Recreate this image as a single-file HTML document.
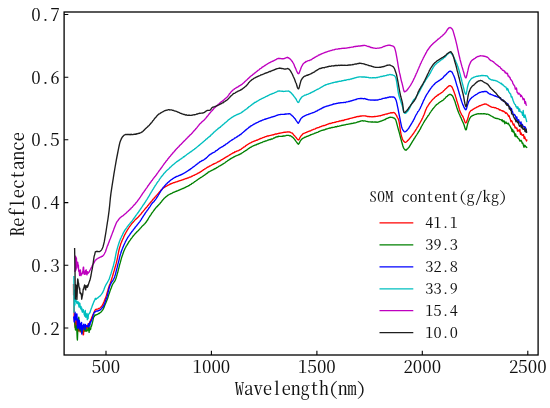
<!DOCTYPE html><html><head><meta charset="utf-8"><style>html,body{margin:0;padding:0;background:#fff;}svg{display:block;filter:blur(0.3px)}</style></head><body><svg width="550" height="408" viewBox="0 0 550 408"><rect x="0" y="0" width="550" height="408" fill="#fff"/>
<polyline points="73.5,284.0 73.6,295.0 74.0,290.0 74.2,318.0 74.5,321.2 74.7,321.8 75.0,324.6 75.2,327.4 75.5,326.8 75.8,323.4 76.2,320.0 76.5,321.2 76.7,325.6 77.0,330.0 77.3,325.9 77.5,324.1 77.8,322.0 78.1,325.1 78.3,325.6 78.6,331.0 78.9,329.1 79.1,324.5 79.4,324.0 79.7,327.0 79.9,329.2 80.2,332.0 80.5,329.3 80.7,327.2 81.0,325.0 81.3,326.4 81.5,328.3 81.8,331.0 82.1,327.3 82.3,327.6 82.6,326.0 82.9,332.7 83.2,334.9 83.5,334.6 83.7,331.2 84.0,327.0 84.2,328.6 84.5,327.7 84.8,331.0 85.0,330.0 85.2,328.9 85.5,327.9 85.8,326.7 86.0,326.0 86.2,326.9 86.5,327.0 86.8,328.1 87.0,329.0 87.2,326.4 87.5,326.1 87.8,328.0 88.0,324.0 88.2,324.4 88.5,324.7 88.8,326.1 89.0,326.0 89.3,325.6 89.6,322.2 89.9,322.0 90.2,321.0 90.5,321.5 90.7,320.1 91.0,319.3 91.2,320.5 91.5,318.0 93.9,312.7 94.5,311.3 95.1,310.1 95.7,309.4 96.3,309.3 96.9,309.1 97.5,309.1 98.1,309.0 98.7,308.5 99.3,308.3 99.9,308.0 100.5,307.6 101.1,307.0 101.7,306.1 102.3,305.4 102.9,304.4 103.5,302.8 104.1,301.6 104.7,300.0 105.3,298.6 105.9,296.9 106.5,295.2 107.1,292.9 107.7,291.0 108.3,288.7 108.9,286.9 109.5,285.0 110.1,283.7 110.7,282.0 111.3,280.3 111.9,278.3 112.5,276.4 113.1,274.2 113.7,272.1 114.3,270.2 114.9,268.0 115.5,266.0 116.1,263.9 116.7,261.4 117.3,258.8 117.9,255.5 118.5,252.3 119.1,249.5 119.7,247.4 120.3,245.5 120.9,243.4 121.5,242.2 122.1,240.5 122.7,239.2 123.3,238.1 123.9,236.6 124.5,235.2 125.1,234.2 125.7,233.0 126.3,231.8 126.9,230.9 127.5,229.8 128.1,228.9 128.7,228.0 129.3,226.9 129.9,226.2 130.5,225.3 131.1,224.6 131.7,223.7 132.3,223.1 132.9,222.4 133.5,221.8 134.1,221.1 134.7,220.2 135.3,219.8 135.9,219.3 136.5,218.5 137.1,218.2 137.7,217.5 138.3,217.0 138.9,216.3 139.5,215.6 140.1,214.9 140.7,214.3 141.3,213.7 141.9,212.7 142.5,212.1 143.1,211.4 143.7,210.6 144.3,209.9 144.9,209.1 145.5,208.5 146.1,207.7 146.7,207.2 147.3,206.3 147.9,205.5 148.5,204.9 149.1,204.1 149.7,203.5 150.3,202.7 150.9,202.1 151.5,201.2 152.1,200.7 152.7,199.7 153.3,199.1 153.9,198.5 154.5,197.7 155.1,197.1 155.7,196.6 156.3,195.5 156.9,195.0 157.5,194.4 158.1,193.6 158.7,192.9 159.3,192.2 159.9,191.6 160.5,190.8 161.1,190.0 161.7,189.6 162.3,188.9 162.9,188.3 163.5,188.0 164.1,187.4 164.7,187.3 165.3,186.8 165.9,186.4 166.5,186.1 167.1,185.8 167.7,185.3 168.3,185.1 168.9,184.9 169.5,184.3 170.1,184.3 170.7,183.7 171.3,183.8 171.9,183.3 172.5,183.3 173.1,182.9 173.7,182.6 174.3,182.7 174.9,182.4 175.5,182.1 176.1,181.9 176.7,181.8 177.3,181.5 177.9,181.5 178.5,181.1 179.1,181.0 179.7,180.7 180.3,180.6 180.9,180.3 181.5,180.3 182.1,179.9 182.7,179.9 183.3,179.5 183.9,179.3 184.5,179.1 185.1,178.9 185.7,178.7 186.3,178.5 186.9,178.3 187.5,178.0 188.1,177.8 188.7,177.8 189.3,177.2 189.9,177.1 190.5,177.0 191.1,176.8 191.7,176.2 192.3,176.2 192.9,175.8 193.5,175.4 194.1,175.4 194.7,174.9 195.3,174.7 195.9,174.3 196.5,174.1 197.1,173.7 197.7,173.5 198.3,173.0 198.9,172.8 199.5,172.7 200.1,172.0 200.7,171.8 201.3,171.4 201.9,170.9 202.5,170.5 203.1,170.2 203.7,169.6 204.3,169.3 204.9,168.9 205.5,168.6 206.1,168.2 206.7,167.8 207.3,167.4 207.9,167.0 208.5,166.9 209.1,166.4 209.7,166.0 210.3,165.8 210.9,165.5 211.5,165.1 212.1,164.8 212.7,164.4 213.3,164.4 213.9,163.7 214.5,163.7 215.1,163.3 215.7,163.1 216.3,162.9 216.9,162.5 217.5,162.0 218.1,161.8 218.7,161.7 219.3,161.1 219.9,161.0 220.5,160.7 221.1,160.0 221.7,159.7 222.3,159.6 222.9,159.1 223.5,158.7 224.1,158.4 224.7,157.9 225.3,157.5 225.9,157.3 226.5,156.8 227.1,156.5 227.7,156.3 228.3,155.8 228.9,155.5 229.5,155.0 230.1,154.8 230.7,154.3 231.3,154.0 231.9,153.7 232.5,153.2 233.1,153.0 233.7,152.6 234.3,152.5 234.9,151.8 235.5,151.9 236.1,151.4 236.7,151.3 237.3,150.9 237.9,150.8 238.5,150.6 239.1,150.2 239.7,150.0 240.3,149.6 240.9,149.4 241.5,148.8 242.1,148.3 242.7,148.1 243.3,147.5 243.9,147.0 244.5,146.9 245.1,146.5 245.7,145.8 246.3,145.4 246.9,145.0 247.5,144.7 248.1,144.2 248.7,143.8 249.3,143.5 249.9,143.2 250.5,142.9 251.1,142.6 251.7,142.2 252.3,141.9 252.9,141.8 253.5,141.4 254.1,141.3 254.7,140.8 255.3,140.8 255.9,140.5 256.5,140.2 257.1,140.3 257.7,139.9 258.3,139.4 258.9,139.4 259.5,139.0 260.1,138.5 260.7,138.7 261.3,138.3 261.9,138.1 262.5,137.7 263.1,137.6 263.7,137.4 264.3,137.3 264.9,136.9 265.5,136.7 266.1,136.6 266.7,136.2 267.3,136.1 267.9,135.8 268.5,136.0 269.1,135.7 269.7,135.6 270.3,135.4 270.9,135.3 271.5,135.2 272.1,135.0 272.7,134.9 273.3,134.7 273.9,134.7 274.5,134.4 275.1,134.2 275.7,134.0 276.3,133.9 276.9,134.0 277.5,133.6 278.1,133.5 278.7,133.3 279.3,133.2 279.9,133.2 280.5,133.1 281.1,132.8 281.7,132.8 282.3,132.6 282.9,132.6 283.5,132.3 284.1,132.4 284.7,132.2 285.3,132.3 285.9,132.0 286.5,132.1 287.1,132.1 287.7,131.8 288.3,131.9 288.9,132.0 289.5,132.0 290.1,132.1 290.7,132.5 291.3,132.8 291.9,132.8 292.5,133.4 293.1,134.0 293.7,134.9 294.3,135.4 294.9,136.1 295.5,137.0 296.1,137.4 296.7,138.4 297.3,139.1 297.9,139.7 298.5,140.0 299.1,139.5 299.7,138.1 300.3,137.0 300.9,136.1 301.5,135.4 302.1,134.8 302.7,134.1 303.3,133.6 303.9,133.3 304.5,133.1 305.1,132.9 305.7,132.6 306.3,132.4 306.9,132.1 307.5,131.8 308.1,131.6 308.7,131.4 309.3,131.2 309.9,131.0 310.5,130.9 311.1,130.4 311.7,130.2 312.3,129.8 312.9,129.8 313.5,129.3 314.1,129.2 314.7,129.1 315.3,128.8 315.9,128.4 316.5,128.1 317.1,128.0 317.7,127.7 318.3,127.6 318.9,127.5 319.5,127.0 320.1,126.8 320.7,126.6 321.3,126.5 321.9,126.2 322.5,125.9 323.1,125.9 323.7,125.5 324.3,125.6 324.9,125.3 325.5,125.1 326.1,124.7 326.7,124.7 327.3,124.3 327.9,124.1 328.5,124.0 329.1,123.7 329.7,123.5 330.3,123.6 330.9,123.2 331.5,123.2 332.1,123.1 332.7,122.6 333.3,122.7 333.9,122.6 334.5,122.4 335.1,122.2 335.7,122.2 336.3,121.9 336.9,121.7 337.5,121.6 338.1,121.6 338.7,121.3 339.3,121.0 339.9,121.2 340.5,120.9 341.1,120.9 341.7,120.5 342.3,120.5 342.9,120.3 343.5,120.5 344.1,119.9 344.7,120.1 345.3,119.6 345.9,119.6 346.5,119.3 347.1,119.3 347.7,119.2 348.3,118.8 348.9,119.0 349.5,118.7 350.1,118.4 350.7,118.4 351.3,118.2 351.9,118.1 352.5,117.9 353.1,117.7 353.7,117.6 354.3,117.3 354.9,117.2 355.5,117.2 356.1,117.0 356.7,116.6 357.3,116.7 357.9,116.5 358.5,116.4 359.1,116.5 359.7,116.2 360.3,116.3 360.9,115.9 361.5,116.1 362.1,115.9 362.7,115.8 363.3,115.9 363.9,115.8 364.5,115.9 365.1,115.9 365.7,116.0 366.3,116.2 366.9,116.4 367.5,116.5 368.1,116.4 368.7,116.6 369.3,116.5 369.9,116.8 370.5,116.6 371.1,116.7 371.7,116.9 372.3,116.9 372.9,116.6 373.5,116.7 374.1,116.7 374.7,116.5 375.3,116.6 375.9,116.4 376.5,116.4 377.1,116.4 377.7,116.1 378.3,116.1 378.9,115.8 379.5,115.8 380.1,115.6 380.7,115.8 381.3,115.3 381.9,115.3 382.5,115.0 383.1,114.9 383.7,114.7 384.3,114.8 384.9,114.3 385.5,114.2 386.1,114.1 386.7,113.9 387.3,114.0 387.9,113.7 388.5,113.4 389.1,113.3 389.7,113.2 390.3,113.1 390.9,112.6 391.5,113.0 392.1,112.6 392.7,112.8 393.3,112.5 393.9,112.6 394.5,112.8 395.1,113.4 395.7,114.3 396.3,115.1 396.9,116.4 397.5,117.6 398.1,118.5 398.7,120.0 399.3,122.8 399.9,127.1 400.5,131.5 401.1,134.6 401.7,136.8 402.3,138.5 402.9,140.0 403.5,141.0 404.1,141.6 404.7,142.2 405.3,142.4 405.9,142.1 406.5,141.7 407.1,141.2 407.7,140.5 408.3,140.1 408.9,139.3 409.5,138.7 410.1,137.9 410.7,137.1 411.3,136.3 411.9,135.6 412.5,134.7 413.1,134.0 413.7,133.1 414.3,132.1 414.9,131.4 415.5,130.3 416.1,129.5 416.7,128.5 417.3,127.3 417.9,126.6 418.5,125.5 419.1,124.4 419.7,123.3 420.3,122.3 420.9,121.2 421.5,120.1 422.1,118.9 422.7,117.8 423.3,116.3 423.9,115.0 424.5,113.4 425.1,111.7 425.7,110.1 426.3,108.8 426.9,107.3 427.5,106.6 428.1,105.5 428.7,104.6 429.3,103.7 429.9,102.8 430.5,102.1 431.1,101.4 431.7,100.6 432.3,99.9 432.9,99.2 433.5,98.8 434.1,98.2 434.7,97.6 435.3,97.1 435.9,96.4 436.5,96.3 437.1,95.6 437.7,95.0 438.3,95.0 438.9,94.3 439.5,94.0 440.1,93.7 440.7,93.4 441.3,92.7 441.9,92.4 442.5,92.0 443.1,91.4 443.7,90.7 444.3,90.3 444.9,89.6 445.5,89.1 446.1,88.6 446.7,87.9 447.3,87.3 447.9,86.9 448.5,86.2 449.1,85.9 449.7,85.7 450.3,85.7 450.9,86.0 451.5,86.5 452.1,87.2 452.7,88.6 453.3,89.9 453.9,91.4 454.5,93.2 455.1,94.8 455.7,96.9 456.3,98.8 456.9,101.0 457.5,102.9 458.1,104.8 458.7,106.8 459.3,109.2 459.9,111.1 460.5,112.4 461.1,113.5 461.7,114.7 462.3,115.8 462.9,116.5 463.5,118.0 464.1,119.4 464.7,121.2 465.3,122.7 465.9,123.0 466.5,122.1 467.1,120.6 467.7,118.7 468.3,116.7 468.9,114.4 469.5,112.5 470.1,111.6 470.7,110.8 471.3,110.4 471.9,110.1 472.5,109.8 473.1,109.2 473.7,109.1 474.3,108.4 474.9,108.3 475.5,107.9 476.1,107.7 476.7,107.4 477.3,106.8 477.9,106.7 478.5,106.5 479.1,106.0 479.7,105.7 480.3,105.7 480.9,105.3 481.5,105.2 482.1,104.8 482.7,104.8 483.3,104.4 483.9,104.4 484.5,104.0 485.1,104.0 485.7,104.1 486.3,104.1 486.9,104.6 487.5,104.8 488.1,105.1 488.7,105.6 489.3,105.8 489.9,106.3 490.5,106.5 491.1,106.8 491.7,107.2 492.3,107.4 492.9,107.4 493.5,107.3 494.1,107.5 494.7,107.8 495.3,107.7 495.9,107.9 496.5,108.3 497.1,108.6 497.7,108.7 498.3,108.9 498.9,109.3 499.5,110.0 500.1,109.7 500.7,110.2 501.3,110.5 501.9,110.8 502.5,110.7 503.1,111.5 503.7,111.1 504.3,111.9 504.9,111.9 505.5,113.3 506.1,112.7 506.7,113.1 507.3,114.0 507.9,114.7 508.5,116.2 509.1,115.7 509.7,117.8 510.3,119.1 510.9,121.7 511.5,120.7 512.1,121.5 512.7,123.4 513.3,125.1 513.9,123.9 514.5,125.6 515.1,127.8 515.7,127.3 516.3,128.4 516.9,127.9 517.5,131.2 518.1,130.5 518.7,130.1 519.3,131.5 519.9,129.5 520.5,134.3 521.1,132.9 521.7,134.7 522.3,135.4 522.9,134.9 523.5,134.6 524.1,138.5 524.7,136.8 525.3,138.9 525.9,139.4 526.5,141.0 527.1,139.6" fill="none" stroke="#ff0000" stroke-width="1.35" stroke-linejoin="round"/>
<polyline points="74.5,322.0 74.8,323.0 75.0,325.6 75.2,327.6 75.5,330.0 75.8,329.4 76.1,326.9 76.4,326.0 76.7,329.3 76.9,331.8 77.2,338.1 77.4,340.0 77.7,333.0 78.0,325.0 78.3,324.2 78.5,320.6 78.8,317.2 79.1,321.3 79.3,322.2 79.6,325.0 79.9,327.4 80.1,331.0 80.4,330.0 80.7,327.8 80.9,329.2 81.2,327.0 81.5,330.7 81.7,331.4 82.0,333.0 82.3,332.1 82.5,330.9 82.8,328.0 83.1,326.8 83.4,327.4 83.7,325.6 84.0,326.0 84.2,326.6 84.5,327.9 84.8,329.6 85.0,331.0 85.2,330.5 85.5,330.2 85.8,327.7 86.0,328.5 86.2,331.2 86.5,330.9 86.8,331.1 87.0,331.0 87.2,330.1 87.5,329.9 87.8,330.1 88.0,329.0 88.3,329.5 88.5,327.5 88.8,330.1 89.1,332.4 89.4,327.6 89.6,330.6 89.9,329.7 90.2,329.5 90.4,328.4 90.7,329.3 91.0,326.0 91.2,326.8 91.5,326.0 92.6,321.9 93.2,319.1 93.8,316.7 94.4,316.6 95.0,314.8 95.6,315.3 96.2,314.9 96.8,314.6 97.4,314.3 98.0,314.1 98.6,313.5 99.2,313.5 99.8,312.9 100.4,312.5 101.0,312.2 101.6,311.4 102.2,310.6 102.8,309.9 103.4,308.7 104.0,307.4 104.6,305.8 105.2,304.2 105.8,303.0 106.4,301.5 107.0,300.0 107.6,298.5 108.2,296.5 108.8,294.6 109.4,293.0 110.0,291.1 110.6,289.4 111.2,288.0 111.8,286.2 112.4,284.8 113.0,283.7 113.6,282.9 114.2,281.9 114.8,281.1 115.4,279.8 116.0,278.2 116.6,276.4 117.2,274.1 117.8,272.0 118.4,269.6 119.0,267.3 119.6,264.8 120.2,262.9 120.8,260.6 121.4,258.4 122.0,256.4 122.6,254.8 123.2,253.0 123.8,251.3 124.4,249.9 125.0,248.5 125.6,247.5 126.2,246.2 126.8,245.3 127.4,244.3 128.0,243.5 128.6,242.2 129.2,241.5 129.8,240.6 130.4,239.9 131.0,238.8 131.6,238.2 132.2,237.4 132.8,236.5 133.4,235.8 134.0,235.1 134.6,234.2 135.2,233.7 135.8,233.1 136.4,232.5 137.0,231.8 137.6,231.1 138.2,230.7 138.8,230.1 139.4,229.4 140.0,228.7 140.6,227.9 141.2,227.4 141.8,226.6 142.4,225.9 143.0,225.4 143.6,225.0 144.2,224.2 144.8,223.8 145.4,222.9 146.0,222.3 146.6,221.3 147.2,220.5 147.8,219.8 148.4,218.5 149.0,217.5 149.6,216.6 150.2,215.7 150.8,214.8 151.4,213.8 152.0,212.9 152.6,212.2 153.2,211.4 153.8,210.5 154.4,209.8 155.0,208.9 155.6,208.2 156.2,207.3 156.8,206.9 157.4,206.3 158.0,205.5 158.6,204.9 159.2,204.3 159.8,203.8 160.4,202.8 161.0,202.2 161.6,201.5 162.2,200.7 162.8,199.9 163.4,199.3 164.0,198.6 164.6,198.0 165.2,197.5 165.8,196.9 166.4,196.5 167.0,196.1 167.6,195.4 168.2,195.2 168.8,194.8 169.4,194.3 170.0,194.2 170.6,193.7 171.2,193.6 171.8,193.3 172.4,193.0 173.0,192.5 173.6,192.4 174.2,192.1 174.8,191.8 175.4,191.7 176.0,191.2 176.6,191.3 177.2,190.8 177.8,190.8 178.4,190.4 179.0,190.1 179.6,190.0 180.2,189.7 180.8,189.4 181.4,189.2 182.0,188.8 182.6,188.5 183.2,188.5 183.8,188.1 184.4,187.8 185.0,187.5 185.6,187.3 186.2,186.9 186.8,186.6 187.4,186.4 188.0,186.2 188.6,185.6 189.2,185.6 189.8,184.9 190.4,184.6 191.0,184.4 191.6,183.8 192.2,183.3 192.8,183.1 193.4,182.7 194.0,182.3 194.6,181.7 195.2,181.4 195.8,181.0 196.4,180.5 197.0,180.2 197.6,179.7 198.2,179.3 198.8,178.9 199.4,178.5 200.0,178.1 200.6,177.6 201.2,177.3 201.8,177.0 202.4,176.5 203.0,176.2 203.6,175.7 204.2,175.3 204.8,175.0 205.4,174.3 206.0,174.1 206.6,173.5 207.2,173.3 207.8,172.8 208.4,172.0 209.0,171.9 209.6,171.6 210.2,171.2 210.8,170.9 211.4,170.5 212.0,170.3 212.6,170.0 213.2,169.6 213.8,169.5 214.4,168.8 215.0,168.9 215.6,168.3 216.2,168.2 216.8,167.6 217.4,167.3 218.0,167.0 218.6,166.5 219.2,166.2 219.8,165.8 220.4,165.6 221.0,165.2 221.6,164.9 222.2,164.4 222.8,164.2 223.4,163.7 224.0,163.3 224.6,163.0 225.2,162.6 225.8,162.0 226.4,161.7 227.0,161.3 227.6,160.8 228.2,160.3 228.8,160.1 229.4,159.5 230.0,159.3 230.6,158.7 231.2,158.5 231.8,158.1 232.4,157.7 233.0,157.6 233.6,157.0 234.2,156.9 234.8,156.5 235.4,156.1 236.0,155.9 236.6,155.7 237.2,155.4 237.8,155.2 238.4,154.9 239.0,154.5 239.6,154.5 240.2,153.9 240.8,153.9 241.4,153.3 242.0,153.0 242.6,152.7 243.2,152.3 243.8,151.8 244.4,151.4 245.0,151.1 245.6,150.6 246.2,150.3 246.8,150.0 247.4,149.3 248.0,149.1 248.6,148.4 249.2,148.3 249.8,147.8 250.4,147.4 251.0,147.1 251.6,146.8 252.2,146.3 252.8,146.1 253.4,145.7 254.0,145.6 254.6,145.2 255.2,145.1 255.8,144.8 256.4,144.8 257.0,144.1 257.6,144.2 258.2,144.0 258.8,143.6 259.4,143.3 260.0,143.1 260.6,142.8 261.2,142.7 261.8,142.6 262.4,142.2 263.0,141.8 263.6,141.7 264.2,141.5 264.8,141.4 265.4,141.0 266.0,140.9 266.6,140.8 267.2,140.5 267.8,140.2 268.4,140.0 269.0,139.8 269.6,139.7 270.2,139.3 270.8,139.5 271.4,139.0 272.0,139.0 272.6,138.8 273.2,138.5 273.8,138.0 274.4,138.0 275.0,137.6 275.6,137.2 276.2,137.0 276.8,136.8 277.4,136.5 278.0,136.8 278.6,136.2 279.2,136.4 279.8,136.4 280.4,136.4 281.0,136.3 281.6,136.3 282.2,136.2 282.8,136.3 283.4,135.9 284.0,136.2 284.6,135.9 285.2,135.9 285.8,135.7 286.4,135.4 287.0,135.4 287.6,135.4 288.2,135.3 288.8,135.3 289.4,135.8 290.0,135.8 290.6,135.7 291.2,136.3 291.8,136.8 292.4,137.0 293.0,137.6 293.6,138.2 294.2,138.9 294.8,139.7 295.4,140.5 296.0,141.4 296.6,142.1 297.2,143.0 297.8,143.8 298.4,144.2 299.0,143.6 299.6,142.4 300.2,141.2 300.8,140.3 301.4,139.6 302.0,139.0 302.6,138.5 303.2,138.1 303.8,137.8 304.4,137.6 305.0,137.1 305.6,137.2 306.2,136.7 306.8,136.4 307.4,136.3 308.0,136.0 308.6,135.8 309.2,135.5 309.8,135.4 310.4,134.9 311.0,134.6 311.6,134.6 312.2,134.2 312.8,134.1 313.4,133.9 314.0,133.6 314.6,133.2 315.2,133.1 315.8,133.1 316.4,132.6 317.0,132.4 317.6,132.3 318.2,132.1 318.8,131.6 319.4,131.3 320.0,131.1 320.6,130.9 321.2,130.6 321.8,130.4 322.4,130.3 323.0,130.0 323.6,130.0 324.2,129.8 324.8,129.8 325.4,129.2 326.0,129.2 326.6,129.0 327.2,128.9 327.8,128.7 328.4,128.4 329.0,128.3 329.6,128.0 330.2,128.0 330.8,128.0 331.4,127.7 332.0,127.5 332.6,127.5 333.2,127.4 333.8,127.3 334.4,127.1 335.0,127.0 335.6,126.7 336.2,126.7 336.8,126.8 337.4,126.2 338.0,126.4 338.6,126.3 339.2,126.1 339.8,125.9 340.4,125.9 341.0,125.7 341.6,125.5 342.2,125.2 342.8,125.3 343.4,125.1 344.0,125.0 344.6,124.9 345.2,124.8 345.8,124.6 346.4,124.4 347.0,124.4 347.6,124.3 348.2,124.1 348.8,124.1 349.4,123.8 350.0,123.8 350.6,123.8 351.2,123.4 351.8,123.6 352.4,123.3 353.0,123.3 353.6,123.0 354.2,123.0 354.8,122.9 355.4,122.8 356.0,122.6 356.6,122.3 357.2,122.2 357.8,122.0 358.4,121.9 359.0,121.6 359.6,121.5 360.2,121.4 360.8,121.0 361.4,120.9 362.0,120.9 362.6,120.7 363.2,120.8 363.8,121.0 364.4,120.9 365.0,120.9 365.6,121.2 366.2,121.3 366.8,121.3 367.4,121.5 368.0,121.6 368.6,121.8 369.2,121.8 369.8,121.9 370.4,121.9 371.0,122.0 371.6,122.0 372.2,122.0 372.8,121.8 373.4,122.1 374.0,122.1 374.6,122.0 375.2,122.2 375.8,122.0 376.4,122.0 377.0,122.3 377.6,122.1 378.2,122.0 378.8,121.9 379.4,121.7 380.0,121.5 380.6,121.1 381.2,121.1 381.8,120.8 382.4,120.5 383.0,120.4 383.6,120.2 384.2,119.8 384.8,119.5 385.4,119.5 386.0,118.8 386.6,118.5 387.2,118.4 387.8,118.1 388.4,117.7 389.0,117.7 389.6,117.3 390.2,117.2 390.8,117.4 391.4,117.4 392.0,117.3 392.6,117.6 393.2,117.7 393.8,118.1 394.4,118.1 395.0,119.0 395.6,119.6 396.2,121.4 396.8,123.7 397.4,125.9 398.0,128.1 398.6,130.2 399.2,132.4 399.8,134.7 400.4,137.1 401.0,139.3 401.6,141.5 402.2,143.5 402.8,145.7 403.4,147.5 404.0,148.6 404.6,149.3 405.2,150.0 405.8,150.0 406.4,150.0 407.0,149.2 407.6,148.9 408.2,148.1 408.8,147.6 409.4,146.6 410.0,145.6 410.6,144.6 411.2,143.6 411.8,142.6 412.4,141.6 413.0,140.7 413.6,139.9 414.2,138.5 414.8,137.9 415.4,136.7 416.0,135.9 416.6,135.0 417.2,134.0 417.8,133.1 418.4,131.9 419.0,131.3 419.6,130.0 420.2,129.1 420.8,127.9 421.4,126.5 422.0,125.6 422.6,124.5 423.2,123.5 423.8,122.3 424.4,121.4 425.0,120.3 425.6,119.7 426.2,118.7 426.8,117.6 427.4,116.8 428.0,115.8 428.6,115.2 429.2,114.3 429.8,113.2 430.4,112.4 431.0,111.5 431.6,110.5 432.2,110.0 432.8,108.9 433.4,108.3 434.0,107.6 434.6,106.9 435.2,106.1 435.8,105.5 436.4,104.8 437.0,104.3 437.6,104.0 438.2,103.4 438.8,102.9 439.4,102.5 440.0,102.1 440.6,101.6 441.2,101.3 441.8,100.9 442.4,100.7 443.0,100.2 443.6,99.8 444.2,98.9 444.8,98.5 445.4,97.9 446.0,97.1 446.6,96.6 447.2,96.3 447.8,95.5 448.4,95.1 449.0,94.7 449.6,94.5 450.2,94.4 450.8,94.5 451.4,94.9 452.0,95.5 452.6,96.1 453.2,97.2 453.8,98.8 454.4,100.2 455.0,101.6 455.6,103.7 456.2,105.6 456.8,107.5 457.4,109.2 458.0,111.1 458.6,112.6 459.2,114.0 459.8,115.0 460.4,116.9 461.0,117.7 461.6,119.4 462.2,120.7 462.8,122.0 463.4,123.3 464.0,124.8 464.6,126.8 465.2,128.9 465.8,129.9 466.4,129.4 467.0,126.5 467.6,124.1 468.2,122.0 468.8,120.7 469.4,119.1 470.0,118.0 470.6,117.1 471.2,116.5 471.8,116.2 472.4,115.6 473.0,115.4 473.6,115.3 474.2,114.8 474.8,114.7 475.4,114.4 476.0,114.4 476.6,114.1 477.2,113.8 477.8,113.9 478.4,113.7 479.0,113.8 479.6,113.9 480.2,113.6 480.8,113.8 481.4,113.7 482.0,113.9 482.6,113.9 483.2,113.7 483.8,113.9 484.4,113.7 485.0,113.8 485.6,113.9 486.2,114.2 486.8,114.2 487.4,114.1 488.0,114.2 488.6,114.6 489.2,114.7 489.8,115.2 490.4,115.5 491.0,115.9 491.6,116.2 492.2,116.4 492.8,116.9 493.4,117.1 494.0,117.7 494.6,117.8 495.2,118.2 495.8,118.2 496.4,118.5 497.0,118.6 497.6,118.5 498.2,118.8 498.8,118.8 499.4,119.3 500.0,119.6 500.6,119.6 501.2,119.7 501.8,120.8 502.4,119.9 503.0,121.8 503.6,120.8 504.2,120.8 504.8,123.7 505.4,122.5 506.0,121.9 506.6,123.4 507.2,123.3 507.8,123.9 508.4,123.3 509.0,124.7 509.6,125.7 510.2,126.1 510.8,128.0 511.4,128.2 512.0,131.3 512.6,129.4 513.2,132.1 513.8,131.1 514.4,133.3 515.0,136.0 515.6,133.9 516.2,136.9 516.8,136.5 517.4,136.6 518.0,138.4 518.6,138.6 519.2,139.3 519.8,141.1 520.4,141.0 521.0,140.3 521.6,141.2 522.2,143.4 522.8,143.0 523.4,145.3 524.0,147.3 524.6,145.1 525.2,145.8 525.8,146.9 526.4,146.9 527.0,148.0" fill="none" stroke="#008000" stroke-width="1.35" stroke-linejoin="round"/>
<polyline points="73.7,316.5 74.0,319.3 74.2,321.9 74.5,322.0 74.8,316.3 75.1,312.2 75.4,316.0 75.8,320.0 76.1,318.9 76.3,315.3 76.6,313.9 76.9,313.9 77.2,321.2 77.4,328.2 77.8,323.1 78.1,319.0 78.4,321.9 78.8,328.0 79.1,324.9 79.4,320.7 79.7,324.8 79.9,329.7 80.3,323.3 80.7,327.3 81.0,328.2 81.3,325.3 81.6,322.4 81.8,334.1 82.1,329.5 82.4,325.9 82.7,328.0 82.9,329.7 83.2,327.6 83.4,325.0 83.7,324.2 84.0,324.2 84.2,326.6 84.5,327.1 84.7,326.8 85.0,327.6 85.3,329.2 85.5,324.4 85.8,326.0 86.0,325.6 86.3,325.9 86.6,326.2 86.9,326.0 87.2,325.7 87.6,326.7 87.9,325.6 88.1,327.2 88.4,325.9 88.6,323.6 88.9,325.0 89.1,324.6 89.3,326.2 89.6,325.4 89.8,322.6 90.1,324.4 90.3,321.7 90.6,322.4 92.6,317.8 93.2,314.9 93.8,313.2 94.4,312.4 95.0,311.6 95.6,311.9 96.2,311.0 96.8,311.1 97.4,310.8 98.0,311.0 98.6,310.7 99.2,310.2 99.8,310.2 100.4,309.5 101.0,309.1 101.6,308.7 102.2,307.7 102.8,307.0 103.4,306.3 104.0,304.9 104.6,303.7 105.2,301.8 105.8,300.1 106.4,298.6 107.0,296.9 107.6,294.5 108.2,291.8 108.8,289.5 109.4,287.3 110.0,285.5 110.6,284.3 111.2,282.9 111.8,282.0 112.4,281.2 113.0,280.4 113.6,279.3 114.2,278.0 114.8,276.3 115.4,274.4 116.0,272.0 116.6,269.7 117.2,267.4 117.8,264.7 118.4,262.4 119.0,260.1 119.6,257.4 120.2,255.1 120.8,253.3 121.4,251.3 122.0,249.7 122.6,248.3 123.2,246.8 123.8,245.3 124.4,244.0 125.0,242.7 125.6,241.3 126.2,240.4 126.8,239.3 127.4,238.2 128.0,237.2 128.6,236.4 129.2,235.5 129.8,234.6 130.4,233.6 131.0,233.0 131.6,232.0 132.2,231.3 132.8,230.6 133.4,229.6 134.0,228.9 134.6,228.3 135.2,227.3 135.8,226.6 136.4,225.9 137.0,225.3 137.6,224.2 138.2,223.7 138.8,222.9 139.4,222.1 140.0,221.3 140.6,220.4 141.2,219.6 141.8,218.4 142.4,217.6 143.0,216.7 143.6,215.6 144.2,214.8 144.8,214.0 145.4,212.9 146.0,212.1 146.6,211.3 147.2,210.4 147.8,209.7 148.4,208.9 149.0,207.9 149.6,207.1 150.2,206.3 150.8,205.2 151.4,204.4 152.0,203.5 152.6,202.8 153.2,202.2 153.8,201.8 154.4,200.8 155.0,200.2 155.6,199.4 156.2,198.6 156.8,197.7 157.4,196.6 158.0,195.8 158.6,194.6 159.2,193.8 159.8,192.7 160.4,191.8 161.0,190.7 161.6,190.0 162.2,189.1 162.8,188.2 163.4,187.2 164.0,186.8 164.6,185.9 165.2,185.3 165.8,184.6 166.4,184.0 167.0,183.5 167.6,182.8 168.2,182.3 168.8,181.9 169.4,181.3 170.0,180.8 170.6,180.3 171.2,179.8 171.8,179.4 172.4,179.1 173.0,178.4 173.6,178.3 174.2,177.8 174.8,177.4 175.4,177.3 176.0,176.7 176.6,176.5 177.2,176.3 177.8,176.1 178.4,175.8 179.0,175.5 179.6,175.4 180.2,175.0 180.8,175.1 181.4,174.5 182.0,174.4 182.6,174.0 183.2,173.6 183.8,173.3 184.4,173.0 185.0,172.7 185.6,172.3 186.2,171.9 186.8,171.4 187.4,171.1 188.0,170.7 188.6,170.4 189.2,169.7 189.8,169.7 190.4,169.0 191.0,168.6 191.6,168.3 192.2,167.8 192.8,167.3 193.4,166.9 194.0,166.4 194.6,166.1 195.2,165.6 195.8,165.0 196.4,164.7 197.0,164.1 197.6,163.7 198.2,163.1 198.8,162.8 199.4,162.4 200.0,161.7 200.6,161.6 201.2,161.2 201.8,160.9 202.4,160.3 203.0,160.3 203.6,160.0 204.2,159.5 204.8,159.2 205.4,158.5 206.0,158.4 206.6,157.6 207.2,157.2 207.8,156.3 208.4,156.0 209.0,155.3 209.6,154.9 210.2,154.3 210.8,154.0 211.4,153.9 212.0,153.2 212.6,153.0 213.2,152.7 213.8,152.3 214.4,152.1 215.0,151.7 215.6,151.0 216.2,150.6 216.8,150.5 217.4,149.9 218.0,149.5 218.6,149.1 219.2,148.4 219.8,148.2 220.4,147.7 221.0,147.3 221.6,147.2 222.2,146.6 222.8,146.6 223.4,145.9 224.0,145.5 224.6,145.3 225.2,144.9 225.8,144.3 226.4,143.8 227.0,143.6 227.6,143.2 228.2,142.5 228.8,142.1 229.4,141.8 230.0,141.3 230.6,140.8 231.2,140.5 231.8,140.0 232.4,139.8 233.0,139.3 233.6,139.0 234.2,138.6 234.8,138.0 235.4,137.9 236.0,137.5 236.6,137.0 237.2,136.8 237.8,136.2 238.4,135.9 239.0,135.7 239.6,135.0 240.2,134.6 240.8,134.5 241.4,133.7 242.0,133.3 242.6,132.7 243.2,132.3 243.8,131.8 244.4,131.3 245.0,130.8 245.6,130.0 246.2,129.9 246.8,129.1 247.4,128.7 248.0,128.3 248.6,127.7 249.2,127.1 249.8,127.0 250.4,126.2 251.0,126.0 251.6,125.6 252.2,125.3 252.8,124.8 253.4,124.6 254.0,124.1 254.6,124.0 255.2,123.4 255.8,123.2 256.4,123.1 257.0,122.6 257.6,122.3 258.2,122.2 258.8,121.7 259.4,121.4 260.0,121.3 260.6,120.8 261.2,120.9 261.8,120.5 262.4,120.1 263.0,119.9 263.6,119.8 264.2,119.5 264.8,119.2 265.4,119.2 266.0,118.7 266.6,118.8 267.2,118.5 267.8,118.4 268.4,118.2 269.0,117.9 269.6,117.9 270.2,117.6 270.8,117.4 271.4,117.2 272.0,117.0 272.6,116.9 273.2,116.6 273.8,116.5 274.4,116.4 275.0,116.1 275.6,115.9 276.2,115.5 276.8,115.3 277.4,115.3 278.0,114.9 278.6,114.9 279.2,114.6 279.8,114.6 280.4,114.5 281.0,114.4 281.6,114.4 282.2,114.3 282.8,114.3 283.4,114.3 284.0,114.3 284.6,114.1 285.2,114.3 285.8,113.9 286.4,114.1 287.0,113.9 287.6,113.9 288.2,114.0 288.8,113.7 289.4,113.7 290.0,113.8 290.6,114.2 291.2,115.0 291.8,115.3 292.4,116.0 293.0,116.4 293.6,117.2 294.2,117.8 294.8,118.6 295.4,119.2 296.0,120.4 296.6,121.1 297.2,122.0 297.8,123.0 298.4,123.3 299.0,122.2 299.6,121.2 300.2,119.9 300.8,118.9 301.4,118.0 302.0,117.7 302.6,117.0 303.2,116.7 303.8,116.4 304.4,115.9 305.0,115.8 305.6,115.4 306.2,115.2 306.8,114.9 307.4,114.7 308.0,114.6 308.6,114.2 309.2,114.0 309.8,113.8 310.4,113.7 311.0,113.3 311.6,113.2 312.2,113.0 312.8,112.7 313.4,112.6 314.0,112.3 314.6,112.2 315.2,111.8 315.8,111.4 316.4,111.1 317.0,111.0 317.6,110.4 318.2,110.1 318.8,109.9 319.4,109.5 320.0,109.3 320.6,108.8 321.2,108.8 321.8,108.1 322.4,108.1 323.0,107.5 323.6,107.6 324.2,107.0 324.8,106.8 325.4,106.7 326.0,106.5 326.6,106.1 327.2,106.1 327.8,105.8 328.4,105.8 329.0,105.5 329.6,105.3 330.2,105.1 330.8,105.0 331.4,104.8 332.0,104.7 332.6,104.6 333.2,104.0 333.8,104.2 334.4,103.9 335.0,103.9 335.6,103.6 336.2,103.6 336.8,103.3 337.4,103.4 338.0,103.1 338.6,103.0 339.2,103.0 339.8,102.8 340.4,102.7 341.0,102.9 341.6,102.7 342.2,102.6 342.8,102.7 343.4,102.6 344.0,102.3 344.6,102.4 345.2,102.5 345.8,102.3 346.4,101.9 347.0,101.9 347.6,101.8 348.2,101.7 348.8,101.4 349.4,101.5 350.0,101.1 350.6,101.0 351.2,101.0 351.8,100.6 352.4,100.5 353.0,100.4 353.6,100.1 354.2,99.9 354.8,99.8 355.4,99.5 356.0,99.6 356.6,99.2 357.2,98.9 357.8,98.9 358.4,98.7 359.0,98.6 359.6,98.7 360.2,98.5 360.8,98.4 361.4,98.5 362.0,98.4 362.6,98.6 363.2,98.6 363.8,98.8 364.4,98.5 365.0,98.6 365.6,99.0 366.2,99.2 366.8,99.2 367.4,99.5 368.0,99.6 368.6,99.8 369.2,99.8 369.8,99.9 370.4,100.1 371.0,100.0 371.6,100.1 372.2,100.0 372.8,100.1 373.4,100.2 374.0,99.9 374.6,100.2 375.2,100.2 375.8,100.0 376.4,100.1 377.0,99.9 377.6,100.0 378.2,99.8 378.8,99.6 379.4,99.3 380.0,99.3 380.6,99.3 381.2,99.1 381.8,98.8 382.4,98.8 383.0,98.4 383.6,98.4 384.2,98.3 384.8,98.2 385.4,97.8 386.0,98.0 386.6,97.8 387.2,97.5 387.8,97.5 388.4,97.5 389.0,97.2 389.6,96.9 390.2,97.2 390.8,96.9 391.4,96.9 392.0,97.1 392.6,96.8 393.2,96.8 393.8,97.1 394.4,97.4 395.0,98.2 395.6,99.2 396.2,100.6 396.8,102.9 397.4,105.8 398.0,108.6 398.6,111.8 399.2,114.9 399.8,117.8 400.4,121.1 401.0,123.9 401.6,126.7 402.2,128.5 402.8,129.9 403.4,130.7 404.0,131.5 404.6,131.8 405.2,131.8 405.8,131.3 406.4,131.0 407.0,130.3 407.6,129.7 408.2,128.9 408.8,128.2 409.4,127.0 410.0,126.2 410.6,125.1 411.2,124.1 411.8,123.1 412.4,122.0 413.0,121.3 413.6,119.8 414.2,119.0 414.8,117.5 415.4,116.2 416.0,115.0 416.6,114.1 417.2,113.0 417.8,111.8 418.4,111.1 419.0,110.3 419.6,109.2 420.2,108.3 420.8,106.8 421.4,105.7 422.0,104.1 422.6,103.1 423.2,101.4 423.8,100.1 424.4,99.1 425.0,97.7 425.6,96.7 426.2,95.3 426.8,94.4 427.4,93.5 428.0,92.6 428.6,91.5 429.2,90.8 429.8,89.8 430.4,88.9 431.0,88.1 431.6,87.3 432.2,86.4 432.8,86.0 433.4,85.0 434.0,84.7 434.6,84.0 435.2,83.3 435.8,82.8 436.4,82.4 437.0,82.0 437.6,81.6 438.2,81.2 438.8,80.9 439.4,80.3 440.0,80.1 440.6,79.5 441.2,79.3 441.8,78.7 442.4,78.2 443.0,77.7 443.6,77.0 444.2,76.0 444.8,75.8 445.4,75.0 446.0,74.7 446.6,74.1 447.2,73.2 447.8,72.8 448.4,72.2 449.0,71.6 449.6,71.2 450.2,71.2 450.8,71.2 451.4,71.9 452.0,72.0 452.6,73.2 453.2,74.5 453.8,75.7 454.4,77.2 455.0,79.0 455.6,81.0 456.2,83.1 456.8,85.3 457.4,86.9 458.0,89.1 458.6,91.1 459.2,93.2 459.8,95.3 460.4,97.4 461.0,99.2 461.6,101.2 462.2,102.9 462.8,104.7 463.4,105.7 464.0,107.4 464.6,108.3 465.2,109.3 465.8,109.8 466.4,109.1 467.0,106.9 467.6,104.9 468.2,103.1 468.8,101.3 469.4,100.6 470.0,99.5 470.6,98.8 471.2,98.2 471.8,97.6 472.4,97.1 473.0,96.7 473.6,96.2 474.2,95.8 474.8,95.3 475.4,95.1 476.0,94.6 476.6,94.3 477.2,94.0 477.8,93.4 478.4,93.1 479.0,92.7 479.6,92.5 480.2,92.3 480.8,92.3 481.4,91.9 482.0,91.9 482.6,91.7 483.2,91.7 483.8,91.7 484.4,91.4 485.0,91.5 485.6,91.4 486.2,91.5 486.8,91.6 487.4,92.3 488.0,92.9 488.6,93.2 489.2,93.7 489.8,94.1 490.4,93.9 491.0,94.6 491.6,94.7 492.2,94.8 492.8,95.2 493.4,95.4 494.0,95.6 494.6,96.0 495.2,95.8 495.8,96.4 496.4,96.5 497.0,96.7 497.6,97.0 498.2,97.3 498.8,97.4 499.4,97.8 500.0,98.2 500.6,97.9 501.2,99.7 501.8,99.9 502.4,99.9 503.0,100.7 503.6,100.3 504.2,101.7 504.8,101.7 505.4,102.4 506.0,103.6 506.6,103.0 507.2,104.3 507.8,103.8 508.4,105.9 509.0,106.3 509.6,106.6 510.2,107.7 510.8,110.3 511.4,108.4 512.0,110.7 512.6,111.9 513.2,114.3 513.8,115.2 514.4,114.4 515.0,115.1 515.6,116.5 516.2,118.5 516.8,116.9 517.4,120.6 518.0,120.2 518.6,119.7 519.2,121.7 519.8,122.3 520.4,124.0 521.0,121.9 521.6,126.4 522.2,124.3 522.8,125.4 523.4,127.1 524.0,126.9 524.6,126.7 525.2,127.0 525.8,128.6 526.4,131.7 527.0,131.4" fill="none" stroke="#0000ff" stroke-width="1.35" stroke-linejoin="round"/>
<polyline points="73.9,276.0 74.0,312.2 74.4,290.0 74.7,295.7 74.9,305.0 75.2,296.0 75.5,297.5 75.7,298.5 76.0,300.1 76.3,301.6 76.5,301.7 76.8,303.2 77.0,302.3 77.3,303.6 77.6,303.1 77.8,301.5 78.1,301.9 78.4,302.6 78.7,305.1 79.0,307.0 79.3,305.7 79.6,303.0 79.9,303.6 80.2,307.7 80.4,306.8 80.7,308.7 81.0,306.4 81.3,309.8 81.6,307.9 81.9,308.2 82.1,311.5 82.4,312.2 82.7,311.3 83.0,310.8 83.3,309.6 83.6,311.6 83.9,312.1 84.2,314.7 84.5,313.9 84.7,316.1 85.0,312.2 85.3,310.5 85.6,315.7 85.9,317.3 86.2,317.1 86.4,314.0 86.7,314.7 87.0,313.5 87.3,319.7 87.6,317.3 87.9,315.9 88.1,318.7 88.4,314.7 90.0,312.5 90.6,310.4 91.2,308.7 91.8,307.2 92.4,305.4 93.0,304.1 93.6,302.4 94.2,301.1 94.8,299.8 95.4,298.3 96.0,299.5 96.6,298.4 97.2,298.3 97.8,297.9 98.4,297.3 99.0,296.8 99.6,296.4 100.2,295.8 100.8,295.1 101.4,294.4 102.0,293.5 102.6,292.7 103.2,291.2 103.8,290.0 104.4,288.3 105.0,286.8 105.6,285.5 106.2,284.4 106.8,283.4 107.4,282.4 108.0,281.3 108.6,280.2 109.2,279.0 109.8,277.1 110.4,275.4 111.0,273.7 111.6,271.6 112.2,269.6 112.8,267.6 113.4,265.7 114.0,263.2 114.6,260.9 115.2,258.0 115.8,254.7 116.4,251.8 117.0,249.6 117.6,247.4 118.2,245.4 118.8,243.5 119.4,241.8 120.0,240.2 120.6,238.6 121.2,237.5 121.8,236.1 122.4,235.0 123.0,233.6 123.6,232.4 124.2,231.4 124.8,230.2 125.4,229.6 126.0,228.6 126.6,227.8 127.2,226.9 127.8,226.1 128.4,225.3 129.0,224.6 129.6,223.9 130.2,223.0 130.8,222.5 131.4,221.6 132.0,221.2 132.6,220.2 133.2,219.4 133.8,218.4 134.4,217.8 135.0,216.8 135.6,216.0 136.2,215.2 136.8,214.4 137.4,213.5 138.0,212.8 138.6,211.8 139.2,211.0 139.8,210.2 140.4,209.2 141.0,208.5 141.6,207.4 142.2,206.6 142.8,205.6 143.4,204.7 144.0,204.1 144.6,202.9 145.2,202.3 145.8,201.2 146.4,200.1 147.0,199.3 147.6,198.4 148.2,197.3 148.8,196.3 149.4,195.4 150.0,194.2 150.6,193.3 151.2,192.2 151.8,191.3 152.4,190.2 153.0,189.3 153.6,188.4 154.2,187.3 154.8,186.4 155.4,185.4 156.0,184.6 156.6,183.7 157.2,182.7 157.8,181.8 158.4,181.1 159.0,180.3 159.6,179.1 160.2,178.4 160.8,177.6 161.4,176.5 162.0,176.1 162.6,175.2 163.2,174.7 163.8,173.7 164.4,173.1 165.0,172.5 165.6,171.8 166.2,171.1 166.8,170.6 167.4,169.9 168.0,169.4 168.6,168.9 169.2,168.4 169.8,167.7 170.4,167.1 171.0,166.7 171.6,166.1 172.2,165.6 172.8,165.0 173.4,164.5 174.0,164.1 174.6,163.6 175.2,163.1 175.8,162.6 176.4,162.1 177.0,161.5 177.6,161.3 178.2,160.7 178.8,160.5 179.4,159.9 180.0,159.4 180.6,159.2 181.2,158.7 181.8,158.2 182.4,157.9 183.0,157.5 183.6,156.7 184.2,156.7 184.8,156.1 185.4,155.7 186.0,155.3 186.6,154.7 187.2,154.3 187.8,153.9 188.4,153.5 189.0,153.1 189.6,152.5 190.2,152.2 190.8,151.9 191.4,151.3 192.0,151.0 192.6,150.3 193.2,150.1 193.8,149.6 194.4,149.2 195.0,148.6 195.6,148.3 196.2,147.7 196.8,147.2 197.4,146.8 198.0,146.3 198.6,145.7 199.2,145.4 199.8,144.8 200.4,144.3 201.0,143.8 201.6,143.3 202.2,142.8 202.8,142.2 203.4,141.7 204.0,141.2 204.6,140.6 205.2,140.2 205.8,139.5 206.4,138.9 207.0,138.8 207.6,138.1 208.2,137.5 208.8,137.1 209.4,136.5 210.0,136.3 210.6,135.5 211.2,134.8 211.8,134.5 212.4,133.8 213.0,133.4 213.6,132.5 214.2,131.9 214.8,131.6 215.4,131.0 216.0,130.5 216.6,129.8 217.2,129.6 217.8,129.1 218.4,128.2 219.0,128.2 219.6,127.4 220.2,127.3 220.8,126.5 221.4,126.0 222.0,125.6 222.6,125.0 223.2,124.4 223.8,124.1 224.4,123.4 225.0,122.8 225.6,122.7 226.2,121.9 226.8,121.4 227.4,121.0 228.0,120.3 228.6,119.8 229.2,119.4 229.8,118.9 230.4,118.5 231.0,118.1 231.6,117.5 232.2,117.3 232.8,116.9 233.4,116.4 234.0,116.2 234.6,115.7 235.2,115.6 235.8,115.2 236.4,114.9 237.0,114.5 237.6,114.5 238.2,114.1 238.8,114.0 239.4,113.6 240.0,113.3 240.6,113.2 241.2,112.7 241.8,112.2 242.4,112.0 243.0,111.4 243.6,111.0 244.2,110.6 244.8,110.1 245.4,109.7 246.0,109.3 246.6,108.9 247.2,108.4 247.8,107.7 248.4,107.5 249.0,106.7 249.6,106.4 250.2,106.0 250.8,105.4 251.4,105.2 252.0,104.5 252.6,104.0 253.2,103.9 253.8,103.2 254.4,102.9 255.0,102.3 255.6,102.4 256.2,101.8 256.8,101.4 257.4,101.1 258.0,100.8 258.6,100.3 259.2,100.1 259.8,99.6 260.4,99.4 261.0,99.2 261.6,98.8 262.2,98.4 262.8,98.3 263.4,97.9 264.0,97.6 264.6,97.4 265.2,97.0 265.8,96.6 266.4,96.4 267.0,96.3 267.6,95.6 268.2,95.6 268.8,95.2 269.4,94.9 270.0,94.5 270.6,94.4 271.2,94.2 271.8,94.0 272.4,93.6 273.0,93.3 273.6,93.3 274.2,93.0 274.8,92.7 275.4,92.3 276.0,92.1 276.6,91.8 277.2,91.6 277.8,91.1 278.4,91.2 279.0,91.0 279.6,90.9 280.2,91.1 280.8,91.1 281.4,91.2 282.0,91.4 282.6,91.2 283.2,91.5 283.8,91.4 284.4,91.4 285.0,91.4 285.6,91.1 286.2,91.1 286.8,91.2 287.4,91.1 288.0,91.2 288.6,91.0 289.2,91.3 289.8,91.9 290.4,92.2 291.0,92.7 291.6,93.7 292.2,94.0 292.8,94.8 293.4,95.5 294.0,96.4 294.6,97.0 295.2,98.0 295.8,98.7 296.4,99.7 297.0,101.0 297.6,101.9 298.2,102.5 298.8,102.1 299.4,100.8 300.0,99.5 300.6,98.8 301.2,97.8 301.8,97.1 302.4,96.6 303.0,96.2 303.6,95.8 304.2,95.6 304.8,95.1 305.4,95.1 306.0,95.0 306.6,94.4 307.2,94.4 307.8,94.3 308.4,94.0 309.0,93.7 309.6,93.3 310.2,93.3 310.8,92.7 311.4,92.5 312.0,92.3 312.6,91.9 313.2,91.7 313.8,91.5 314.4,90.9 315.0,90.7 315.6,90.3 316.2,90.0 316.8,89.7 317.4,89.4 318.0,89.1 318.6,88.8 319.2,88.5 319.8,88.1 320.4,87.8 321.0,87.4 321.6,87.2 322.2,86.7 322.8,86.4 323.4,86.0 324.0,85.6 324.6,85.4 325.2,84.9 325.8,85.1 326.4,84.6 327.0,84.4 327.6,84.1 328.2,84.2 328.8,83.7 329.4,83.7 330.0,83.6 330.6,83.3 331.2,83.2 331.8,83.1 332.4,82.7 333.0,82.8 333.6,82.5 334.2,82.4 334.8,82.4 335.4,82.0 336.0,82.2 336.6,81.8 337.2,82.0 337.8,81.5 338.4,81.6 339.0,81.3 339.6,81.2 340.2,81.3 340.8,81.1 341.4,80.8 342.0,81.0 342.6,80.6 343.2,80.6 343.8,80.5 344.4,80.4 345.0,80.0 345.6,80.3 346.2,80.0 346.8,79.8 347.4,79.7 348.0,79.6 348.6,79.5 349.2,79.6 349.8,79.3 350.4,79.1 351.0,79.0 351.6,79.0 352.2,78.6 352.8,78.5 353.4,78.5 354.0,78.2 354.6,78.0 355.2,77.8 355.8,77.6 356.4,77.5 357.0,77.4 357.6,77.2 358.2,77.1 358.8,77.0 359.4,76.9 360.0,76.9 360.6,76.8 361.2,76.8 361.8,77.0 362.4,76.9 363.0,77.0 363.6,77.0 364.2,76.9 364.8,77.0 365.4,77.2 366.0,77.2 366.6,77.2 367.2,77.4 367.8,77.4 368.4,77.5 369.0,77.7 369.6,77.8 370.2,77.6 370.8,77.8 371.4,77.8 372.0,77.8 372.6,77.6 373.2,77.9 373.8,77.6 374.4,77.7 375.0,77.7 375.6,77.8 376.2,77.6 376.8,77.5 377.4,77.6 378.0,77.2 378.6,77.1 379.2,77.1 379.8,76.8 380.4,76.7 381.0,76.4 381.6,76.5 382.2,76.3 382.8,76.3 383.4,75.9 384.0,76.0 384.6,75.8 385.2,75.6 385.8,75.6 386.4,75.6 387.0,75.1 387.6,75.0 388.2,75.0 388.8,74.8 389.4,74.7 390.0,74.5 390.6,74.7 391.2,74.8 391.8,74.7 392.4,74.9 393.0,75.2 393.6,75.4 394.2,75.6 394.8,76.1 395.4,77.0 396.0,78.4 396.6,81.5 397.2,85.4 397.8,89.4 398.4,93.1 399.0,95.8 399.6,97.7 400.2,99.6 400.8,101.2 401.4,103.3 402.0,104.9 402.6,107.2 403.2,109.7 403.8,111.8 404.4,113.0 405.0,113.4 405.6,113.1 406.2,112.8 406.8,112.1 407.4,111.5 408.0,110.8 408.6,109.9 409.2,109.0 409.8,107.7 410.4,106.6 411.0,105.0 411.6,103.9 412.2,102.5 412.8,101.3 413.4,100.2 414.0,99.5 414.6,98.9 415.2,98.2 415.8,97.4 416.4,96.7 417.0,95.7 417.6,94.8 418.2,93.7 418.8,92.8 419.4,91.6 420.0,90.4 420.6,89.3 421.2,88.2 421.8,86.9 422.4,85.7 423.0,84.8 423.6,83.5 424.2,82.5 424.8,81.6 425.4,80.5 426.0,79.5 426.6,78.8 427.2,77.7 427.8,76.9 428.4,75.9 429.0,75.3 429.6,73.9 430.2,73.3 430.8,71.9 431.4,70.8 432.0,69.7 432.6,68.6 433.2,67.5 433.8,66.6 434.4,65.6 435.0,65.0 435.6,64.3 436.2,63.9 436.8,63.3 437.4,62.8 438.0,62.4 438.6,61.9 439.2,61.5 439.8,61.0 440.4,60.4 441.0,60.0 441.6,59.7 442.2,59.0 442.8,58.8 443.4,58.5 444.0,57.5 444.6,57.4 445.2,56.8 445.8,55.9 446.4,55.7 447.0,54.3 447.6,54.2 448.2,53.5 448.8,53.0 449.4,52.6 450.0,52.6 450.6,52.7 451.2,53.4 451.8,53.9 452.4,54.9 453.0,56.0 453.6,56.9 454.2,58.2 454.8,59.4 455.4,60.3 456.0,62.0 456.6,63.2 457.2,64.7 457.8,66.6 458.4,68.2 459.0,70.2 459.6,72.4 460.2,74.5 460.8,77.0 461.4,79.2 462.0,81.9 462.6,84.1 463.2,86.5 463.8,88.7 464.4,91.1 465.0,93.0 465.6,94.3 466.2,94.2 466.8,91.0 467.4,87.5 468.0,85.0 468.6,83.0 469.2,81.7 469.8,80.6 470.4,79.9 471.0,79.1 471.6,78.4 472.2,78.1 472.8,77.9 473.4,77.4 474.0,77.2 474.6,77.1 475.2,76.7 475.8,76.6 476.4,76.4 477.0,76.2 477.6,76.4 478.2,75.9 478.8,76.0 479.4,75.9 480.0,75.9 480.6,75.7 481.2,75.7 481.8,75.5 482.4,75.7 483.0,75.5 483.6,75.7 484.2,75.6 484.8,75.6 485.4,75.9 486.0,75.7 486.6,75.9 487.2,76.0 487.8,76.7 488.4,77.7 489.0,78.5 489.6,78.7 490.2,79.4 490.8,79.5 491.4,79.8 492.0,80.0 492.6,79.9 493.2,80.1 493.8,80.5 494.4,80.3 495.0,80.4 495.6,80.8 496.2,80.8 496.8,81.0 497.4,81.3 498.0,81.7 498.6,82.2 499.2,82.3 499.8,82.7 500.4,83.3 501.0,83.7 501.6,83.3 502.2,84.7 502.8,84.7 503.4,85.1 504.0,85.9 504.6,86.5 505.2,86.9 505.8,87.0 506.4,88.3 507.0,90.0 507.6,88.5 508.2,89.7 508.8,91.9 509.4,92.6 510.0,93.6 510.6,93.8 511.2,97.0 511.8,96.5 512.4,98.3 513.0,100.2 513.6,101.7 514.2,103.4 514.8,104.2 515.4,104.8 516.0,106.8 516.6,106.6 517.2,108.5 517.8,106.8 518.4,108.4 519.0,111.4 519.6,108.9 520.2,111.6 520.8,111.9 521.4,112.0 522.0,112.8 522.6,115.3 523.2,110.5 523.8,117.1 524.4,117.5 525.0,114.9 525.6,117.3 526.2,119.6 526.8,122.1" fill="none" stroke="#00bfbf" stroke-width="1.35" stroke-linejoin="round"/>
<polyline points="75.0,272.0 75.3,266.0 75.6,256.1 76.0,270.0 76.4,257.9 76.7,264.6 76.9,268.0 77.2,265.1 77.4,263.9 77.7,262.2 78.1,265.6 78.4,265.0 78.7,271.2 79.0,269.9 79.3,272.3 79.6,275.5 79.9,275.0 80.2,273.6 80.4,270.0 80.7,272.4 81.0,275.6 81.3,274.0 81.6,274.6 81.9,274.0 82.1,273.1 82.4,273.3 82.6,272.3 82.9,270.7 83.3,267.3 83.6,267.1 83.9,273.6 84.2,274.2 84.5,272.5 84.8,271.7 85.1,274.3 85.4,270.7 85.7,272.9 85.9,271.6 86.2,269.8 86.4,273.8 86.7,274.2 87.0,274.9 87.2,273.7 87.5,271.7 87.7,272.2 88.0,273.3 89.3,271.7 89.9,270.3 90.5,269.3 91.1,268.1 91.7,267.0 92.3,265.6 92.9,264.5 93.5,263.5 94.1,262.8 94.7,261.5 95.3,260.2 95.9,259.9 96.5,259.4 97.1,258.8 97.7,258.5 98.3,258.1 98.9,257.8 99.5,257.5 100.1,257.3 100.7,256.9 101.3,256.9 101.9,256.3 102.5,256.4 103.1,255.5 103.7,254.9 104.3,254.0 104.9,252.8 105.5,251.7 106.1,249.8 106.7,248.1 107.3,246.1 107.9,245.1 108.5,243.2 109.1,241.9 109.7,240.0 110.3,238.8 110.9,237.1 111.5,235.6 112.1,233.9 112.7,232.2 113.3,230.9 113.9,229.1 114.5,227.5 115.1,225.9 115.7,224.4 116.3,223.0 116.9,221.9 117.5,221.0 118.1,220.4 118.7,219.4 119.3,218.7 119.9,218.1 120.5,217.5 121.1,217.0 121.7,216.5 122.3,216.1 122.9,215.9 123.5,215.2 124.1,214.7 124.7,214.2 125.3,213.7 125.9,213.3 126.5,212.7 127.1,212.1 127.7,211.6 128.3,211.0 128.9,210.3 129.5,210.0 130.1,209.2 130.7,208.9 131.3,207.9 131.9,207.5 132.5,206.9 133.1,206.1 133.7,205.4 134.3,204.8 134.9,204.2 135.5,203.5 136.1,202.7 136.7,202.1 137.3,201.3 137.9,200.4 138.5,199.6 139.1,198.8 139.7,198.0 140.3,197.1 140.9,196.1 141.5,195.3 142.1,194.3 142.7,193.4 143.3,192.6 143.9,191.9 144.5,190.9 145.1,190.2 145.7,189.1 146.3,188.4 146.9,187.6 147.5,186.7 148.1,185.7 148.7,185.0 149.3,184.1 149.9,183.2 150.5,182.5 151.1,181.7 151.7,180.7 152.3,180.2 152.9,179.1 153.5,178.4 154.1,177.6 154.7,176.8 155.3,176.2 155.9,175.3 156.5,174.7 157.1,173.7 157.7,172.9 158.3,172.0 158.9,171.1 159.5,170.5 160.1,169.5 160.7,168.8 161.3,167.8 161.9,167.2 162.5,166.2 163.1,165.4 163.7,164.5 164.3,163.7 164.9,162.9 165.5,162.2 166.1,161.2 166.7,160.6 167.3,160.0 167.9,158.9 168.5,158.2 169.1,157.5 169.7,156.7 170.3,156.2 170.9,155.3 171.5,154.6 172.1,154.0 172.7,153.3 173.3,152.3 173.9,152.0 174.5,151.2 175.1,150.5 175.7,149.8 176.3,149.1 176.9,148.6 177.5,147.8 178.1,147.2 178.7,146.7 179.3,146.0 179.9,145.3 180.5,144.7 181.1,144.3 181.7,143.5 182.3,142.9 182.9,142.2 183.5,141.7 184.1,141.0 184.7,140.6 185.3,139.9 185.9,139.1 186.5,138.8 187.1,138.1 187.7,137.5 188.3,136.8 188.9,136.4 189.5,135.6 190.1,135.0 190.7,134.4 191.3,133.9 191.9,133.3 192.5,132.7 193.1,131.9 193.7,131.2 194.3,130.6 194.9,129.9 195.5,129.3 196.1,128.4 196.7,127.9 197.3,127.1 197.9,126.3 198.5,125.6 199.1,124.8 199.7,124.1 200.3,123.6 200.9,123.1 201.5,122.4 202.1,121.7 202.7,121.4 203.3,120.6 203.9,120.3 204.5,119.6 205.1,118.9 205.7,118.4 206.3,117.5 206.9,116.8 207.5,116.0 208.1,115.4 208.7,114.5 209.3,113.8 209.9,113.1 210.5,112.5 211.1,111.6 211.7,111.0 212.3,110.5 212.9,109.7 213.5,109.0 214.1,108.2 214.7,107.8 215.3,107.2 215.9,106.5 216.5,106.1 217.1,105.3 217.7,105.0 218.3,104.3 218.9,104.0 219.5,103.3 220.1,102.9 220.7,102.3 221.3,101.8 221.9,101.4 222.5,100.9 223.1,100.4 223.7,100.1 224.3,99.5 224.9,98.9 225.5,98.3 226.1,98.0 226.7,97.3 227.3,97.0 227.9,96.1 228.5,95.3 229.1,94.4 229.7,93.4 230.3,92.9 230.9,92.1 231.5,91.6 232.1,90.8 232.7,90.2 233.3,89.8 233.9,89.5 234.5,88.8 235.1,88.5 235.7,88.2 236.3,87.7 236.9,87.4 237.5,87.1 238.1,86.8 238.7,86.1 239.3,86.0 239.9,85.6 240.5,85.2 241.1,84.9 241.7,84.4 242.3,84.1 242.9,83.4 243.5,83.0 244.1,82.4 244.7,81.8 245.3,81.2 245.9,80.7 246.5,80.1 247.1,79.7 247.7,79.1 248.3,78.5 248.9,77.9 249.5,77.3 250.1,76.9 250.7,76.2 251.3,75.8 251.9,75.4 252.5,74.9 253.1,74.2 253.7,74.1 254.3,73.3 254.9,72.9 255.5,72.6 256.1,71.9 256.7,71.4 257.3,71.2 257.9,70.3 258.5,70.1 259.1,69.7 259.7,69.0 260.3,68.7 260.9,68.3 261.5,68.0 262.1,67.2 262.7,67.0 263.3,66.7 263.9,66.2 264.5,65.7 265.1,65.5 265.7,65.0 266.3,64.7 266.9,64.3 267.5,63.9 268.1,63.5 268.7,63.2 269.3,62.7 269.9,62.6 270.5,62.2 271.1,61.9 271.7,61.6 272.3,61.2 272.9,61.2 273.5,60.9 274.1,60.4 274.7,60.3 275.3,59.9 275.9,59.7 276.5,59.2 277.1,58.9 277.7,58.7 278.3,58.5 278.9,58.3 279.5,58.5 280.1,58.4 280.7,58.6 281.3,58.6 281.9,58.8 282.5,58.7 283.1,58.9 283.7,58.6 284.3,58.6 284.9,58.2 285.5,58.1 286.1,57.7 286.7,57.6 287.3,57.2 287.9,57.7 288.5,57.7 289.1,58.4 289.7,58.5 290.3,59.2 290.9,59.7 291.5,60.8 292.1,61.1 292.7,62.3 293.3,63.2 293.9,64.3 294.5,65.9 295.1,67.4 295.7,68.6 296.3,70.2 296.9,71.5 297.5,72.8 298.1,73.5 298.7,73.7 299.3,72.8 299.9,71.0 300.5,69.5 301.1,67.7 301.7,66.3 302.3,65.4 302.9,64.2 303.5,63.6 304.1,63.1 304.7,62.5 305.3,62.3 305.9,61.5 306.5,61.6 307.1,61.2 307.7,60.8 308.3,60.7 308.9,60.6 309.5,60.5 310.1,60.0 310.7,59.8 311.3,59.8 311.9,59.3 312.5,58.8 313.1,58.3 313.7,58.3 314.3,57.5 314.9,57.4 315.5,56.9 316.1,56.6 316.7,56.2 317.3,56.1 317.9,55.7 318.5,55.1 319.1,55.0 319.7,54.9 320.3,54.3 320.9,54.1 321.5,54.0 322.1,53.6 322.7,53.4 323.3,53.1 323.9,52.9 324.5,52.6 325.1,52.5 325.7,52.1 326.3,52.0 326.9,51.8 327.5,51.7 328.1,51.3 328.7,51.1 329.3,51.0 329.9,50.8 330.5,50.7 331.1,50.5 331.7,50.4 332.3,50.2 332.9,49.9 333.5,49.8 334.1,49.8 334.7,49.5 335.3,49.4 335.9,49.2 336.5,49.1 337.1,49.2 337.7,49.1 338.3,48.9 338.9,48.7 339.5,48.9 340.1,48.6 340.7,48.6 341.3,48.5 341.9,48.4 342.5,48.4 343.1,48.2 343.7,48.3 344.3,48.1 344.9,48.3 345.5,48.1 346.1,48.1 346.7,48.0 347.3,47.8 347.9,47.9 348.5,47.6 349.1,47.7 349.7,47.5 350.3,47.3 350.9,47.3 351.5,47.2 352.1,47.1 352.7,47.1 353.3,47.0 353.9,46.6 354.5,46.6 355.1,46.3 355.7,46.5 356.3,46.3 356.9,46.1 357.5,46.4 358.1,46.2 358.7,46.0 359.3,46.1 359.9,45.9 360.5,46.0 361.1,45.7 361.7,45.7 362.3,45.8 362.9,45.4 363.5,45.5 364.1,45.4 364.7,45.3 365.3,45.6 365.9,45.7 366.5,45.8 367.1,46.1 367.7,46.3 368.3,46.5 368.9,46.4 369.5,46.8 370.1,47.0 370.7,47.5 371.3,47.5 371.9,47.7 372.5,47.7 373.1,47.9 373.7,48.1 374.3,48.1 374.9,48.1 375.5,48.3 376.1,48.3 376.7,48.3 377.3,48.2 377.9,48.1 378.5,48.2 379.1,48.1 379.7,47.9 380.3,47.8 380.9,47.7 381.5,47.6 382.1,47.3 382.7,47.0 383.3,46.7 383.9,46.5 384.5,46.3 385.1,46.0 385.7,45.8 386.3,45.7 386.9,45.6 387.5,45.3 388.1,45.4 388.7,45.1 389.3,45.2 389.9,45.2 390.5,45.4 391.1,45.7 391.7,45.6 392.3,45.9 392.9,46.1 393.5,46.4 394.1,46.9 394.7,48.1 395.3,50.1 395.9,52.6 396.5,55.8 397.1,59.1 397.7,62.6 398.3,66.3 398.9,69.5 399.5,72.7 400.1,75.0 400.7,77.9 401.3,80.6 401.9,82.7 402.5,85.2 403.1,87.7 403.7,90.3 404.3,91.8 404.9,91.8 405.5,91.4 406.1,90.9 406.7,90.7 407.3,89.7 407.9,89.0 408.5,88.2 409.1,87.4 409.7,86.5 410.3,85.6 410.9,84.6 411.5,83.5 412.1,82.6 412.7,81.4 413.3,80.2 413.9,78.9 414.5,77.8 415.1,76.4 415.7,75.1 416.3,73.6 416.9,72.5 417.5,71.0 418.1,69.5 418.7,68.2 419.3,66.7 419.9,65.5 420.5,63.8 421.1,62.8 421.7,61.3 422.3,60.2 422.9,59.0 423.5,57.6 424.1,56.6 424.7,55.3 425.3,54.4 425.9,53.1 426.5,52.1 427.1,50.8 427.7,50.0 428.3,49.3 428.9,48.3 429.5,47.5 430.1,46.8 430.7,45.9 431.3,45.5 431.9,44.7 432.5,44.2 433.1,43.5 433.7,43.1 434.3,42.4 434.9,42.1 435.5,41.5 436.1,40.9 436.7,40.4 437.3,40.0 437.9,39.2 438.5,39.1 439.1,38.4 439.7,38.0 440.3,37.4 440.9,36.8 441.5,36.5 442.1,36.0 442.7,35.5 443.3,34.7 443.9,34.2 444.5,33.8 445.1,32.8 445.7,32.5 446.3,31.3 446.9,30.3 447.5,29.5 448.1,28.8 448.7,27.9 449.3,27.9 449.9,27.4 450.5,27.8 451.1,27.9 451.7,28.4 452.3,29.3 452.9,30.4 453.5,32.4 454.1,34.5 454.7,36.6 455.3,38.8 455.9,41.2 456.5,43.7 457.1,46.2 457.7,49.1 458.3,51.6 458.9,54.6 459.5,57.0 460.1,59.7 460.7,61.8 461.3,64.1 461.9,66.4 462.5,68.3 463.1,70.4 463.7,72.2 464.3,74.7 464.9,76.5 465.5,77.8 466.1,77.8 466.7,75.8 467.3,73.2 467.9,70.7 468.5,67.9 469.1,65.8 469.7,64.3 470.3,62.9 470.9,61.6 471.5,60.8 472.1,60.4 472.7,59.6 473.3,59.5 473.9,58.9 474.5,58.6 475.1,58.3 475.7,57.7 476.3,57.4 476.9,56.9 477.5,56.7 478.1,56.5 478.7,56.3 479.3,56.1 479.9,56.0 480.5,55.7 481.1,55.8 481.7,55.9 482.3,55.9 482.9,56.0 483.5,56.0 484.1,56.4 484.7,56.2 485.3,56.6 485.9,56.5 486.5,57.0 487.1,57.0 487.7,57.5 488.3,57.8 488.9,58.7 489.5,59.5 490.1,59.9 490.7,60.5 491.3,60.7 491.9,60.8 492.5,61.4 493.1,61.6 493.7,62.0 494.3,62.8 494.9,63.2 495.5,63.7 496.1,64.3 496.7,64.6 497.3,65.3 497.9,65.3 498.5,66.3 499.1,66.7 499.7,66.6 500.3,67.5 500.9,68.6 501.5,68.6 502.1,69.6 502.7,70.4 503.3,70.3 503.9,70.9 504.5,70.9 505.1,72.9 505.7,72.2 506.3,73.5 506.9,73.6 507.5,73.3 508.1,76.1 508.7,75.9 509.3,77.2 509.9,77.2 510.5,79.3 511.1,79.8 511.7,80.8 512.3,81.2 512.9,83.7 513.5,84.2 514.1,85.6 514.7,86.1 515.3,89.2 515.9,88.8 516.5,88.0 517.1,92.3 517.7,92.8 518.3,94.1 518.9,93.1 519.5,94.2 520.1,94.3 520.7,96.5 521.3,95.4 521.9,96.6 522.5,97.3 523.1,99.7 523.7,98.7 524.3,99.0 524.9,103.4 525.5,101.6 526.1,104.9 526.7,105.6" fill="none" stroke="#bf00bf" stroke-width="1.35" stroke-linejoin="round"/>
<polyline points="74.6,248.0 75.0,270.0 75.3,299.0 75.6,289.9 75.9,285.0 76.2,286.0 76.4,292.9 76.7,295.8 76.9,299.4 77.2,292.8 77.4,285.0 77.7,279.0 78.0,279.9 78.3,282.7 78.6,283.1 78.9,287.3 79.1,286.8 79.4,289.2 79.7,288.1 80.0,293.1 80.3,292.6 80.6,293.6 80.8,294.0 81.1,293.4 81.4,295.0 81.7,299.2 82.0,297.7 82.3,296.0 82.6,294.9 82.9,292.6 83.2,289.0 83.4,289.5 83.7,289.2 84.0,286.8 84.3,286.2 84.6,284.9 84.9,286.4 85.1,286.1 85.4,288.3 85.7,289.9 86.0,285.7 86.3,286.6 86.6,286.2 86.9,287.4 87.2,287.4 87.5,285.1 87.7,286.9 88.0,285.7 89.3,281.8 89.9,280.3 90.5,277.8 91.1,275.0 91.7,271.4 92.3,268.6 92.9,265.0 93.5,260.7 94.1,256.5 94.7,254.6 95.3,251.9 95.9,251.6 96.5,251.3 97.1,251.5 97.7,251.3 98.3,251.6 98.9,251.6 99.5,251.6 100.1,251.2 100.7,250.8 101.3,250.1 101.9,249.3 102.5,248.0 103.1,246.4 103.7,244.1 104.3,241.7 104.9,238.2 105.5,234.7 106.1,231.0 106.7,227.0 107.3,223.2 107.9,219.5 108.5,215.1 109.1,210.6 109.7,205.0 110.3,198.7 110.9,193.6 111.5,189.6 112.1,185.7 112.7,181.9 113.3,178.2 113.9,174.2 114.5,170.6 115.1,167.0 115.7,163.6 116.3,160.1 116.9,157.0 117.5,154.0 118.1,150.9 118.7,147.9 119.3,145.0 119.9,142.4 120.5,140.8 121.1,139.4 121.7,138.1 122.3,137.1 122.9,136.6 123.5,135.7 124.1,135.2 124.7,134.9 125.3,134.7 125.9,134.4 126.5,134.6 127.1,134.4 127.7,134.5 128.3,134.5 128.9,134.5 129.5,134.7 130.1,134.3 130.7,134.7 131.3,134.3 131.9,134.5 132.5,134.6 133.1,134.5 133.7,134.4 134.3,134.1 134.9,134.3 135.5,134.0 136.1,134.3 136.7,133.7 137.3,133.8 137.9,133.5 138.5,133.5 139.1,133.2 139.7,133.3 140.3,132.8 140.9,132.7 141.5,132.2 142.1,132.0 142.7,131.7 143.3,130.9 143.9,130.3 144.5,129.9 145.1,129.1 145.7,128.6 146.3,128.1 146.9,127.4 147.5,127.0 148.1,126.2 148.7,125.9 149.3,125.2 149.9,124.4 150.5,123.8 151.1,123.0 151.7,122.4 152.3,121.7 152.9,120.7 153.5,120.3 154.1,119.2 154.7,118.6 155.3,117.7 155.9,117.3 156.5,116.3 157.1,115.7 157.7,115.0 158.3,114.7 158.9,113.9 159.5,113.8 160.1,113.5 160.7,112.8 161.3,112.6 161.9,112.3 162.5,111.8 163.1,111.6 163.7,111.3 164.3,110.9 164.9,110.7 165.5,110.5 166.1,110.4 166.7,110.1 167.3,110.1 167.9,109.9 168.5,109.7 169.1,109.6 169.7,110.0 170.3,109.9 170.9,109.9 171.5,109.9 172.1,110.1 172.7,110.4 173.3,110.3 173.9,110.6 174.5,110.8 175.1,111.1 175.7,111.2 176.3,111.4 176.9,111.6 177.5,112.1 178.1,112.2 178.7,112.4 179.3,112.6 179.9,113.0 180.5,113.4 181.1,113.4 181.7,113.8 182.3,113.9 182.9,114.1 183.5,114.4 184.1,114.5 184.7,114.5 185.3,114.8 185.9,115.1 186.5,114.8 187.1,115.1 187.7,115.3 188.3,115.2 188.9,115.2 189.5,115.2 190.1,115.4 190.7,115.3 191.3,115.3 191.9,115.1 192.5,115.2 193.1,114.8 193.7,114.9 194.3,114.7 194.9,114.7 195.5,114.6 196.1,114.4 196.7,114.0 197.3,114.1 197.9,113.7 198.5,113.6 199.1,113.5 199.7,113.2 200.3,113.3 200.9,113.2 201.5,113.1 202.1,113.1 202.7,113.0 203.3,112.9 203.9,112.6 204.5,112.4 205.1,111.8 205.7,111.4 206.3,111.0 206.9,110.7 207.5,110.4 208.1,110.4 208.7,110.4 209.3,110.3 209.9,110.1 210.5,109.8 211.1,109.0 211.7,108.0 212.3,107.5 212.9,107.1 213.5,107.0 214.1,106.8 214.7,106.7 215.3,106.4 215.9,106.2 216.5,105.9 217.1,105.8 217.7,105.4 218.3,105.2 218.9,104.9 219.5,104.5 220.1,104.2 220.7,104.0 221.3,103.6 221.9,103.2 222.5,102.9 223.1,102.8 223.7,102.0 224.3,101.8 224.9,101.5 225.5,100.9 226.1,100.7 226.7,100.3 227.3,99.7 227.9,99.2 228.5,98.6 229.1,97.9 229.7,97.4 230.3,96.6 230.9,96.0 231.5,95.4 232.1,94.9 232.7,94.3 233.3,93.9 233.9,93.3 234.5,93.3 235.1,93.0 235.7,92.5 236.3,92.1 236.9,91.8 237.5,91.6 238.1,91.1 238.7,91.1 239.3,90.6 239.9,90.5 240.5,90.2 241.1,89.5 241.7,89.5 242.3,88.9 242.9,88.4 243.5,88.1 244.1,87.6 244.7,87.2 245.3,86.4 245.9,86.2 246.5,85.6 247.1,84.8 247.7,84.2 248.3,83.3 248.9,82.4 249.5,81.9 250.1,81.2 250.7,80.8 251.3,80.4 251.9,79.7 252.5,79.4 253.1,79.1 253.7,78.4 254.3,78.2 254.9,77.9 255.5,77.5 256.1,77.3 256.7,76.9 257.3,76.8 257.9,76.4 258.5,76.1 259.1,75.8 259.7,75.6 260.3,75.3 260.9,74.9 261.5,74.9 262.1,74.6 262.7,74.3 263.3,74.2 263.9,73.9 264.5,73.5 265.1,73.4 265.7,73.0 266.3,73.0 266.9,72.6 267.5,72.6 268.1,72.2 268.7,72.0 269.3,71.7 269.9,71.4 270.5,71.5 271.1,70.9 271.7,70.9 272.3,70.4 272.9,70.3 273.5,70.1 274.1,69.7 274.7,69.7 275.3,69.2 275.9,69.3 276.5,68.9 277.1,68.7 277.7,68.6 278.3,68.4 278.9,68.4 279.5,68.0 280.1,68.3 280.7,68.2 281.3,68.5 281.9,68.4 282.5,68.6 283.1,68.6 283.7,68.9 284.3,69.1 284.9,69.0 285.5,69.1 286.1,68.8 286.7,68.8 287.3,68.6 287.9,68.4 288.5,69.0 289.1,69.1 289.7,69.9 290.3,70.7 290.9,71.6 291.5,72.7 292.1,73.8 292.7,75.0 293.3,76.5 293.9,77.7 294.5,79.1 295.1,80.7 295.7,82.5 296.3,83.5 296.9,85.8 297.5,87.7 298.1,88.8 298.7,88.8 299.3,87.0 299.9,84.7 300.5,82.4 301.1,80.3 301.7,79.3 302.3,78.3 302.9,77.7 303.5,77.1 304.1,76.5 304.7,76.1 305.3,76.0 305.9,75.8 306.5,75.4 307.1,75.2 307.7,75.3 308.3,74.7 308.9,74.8 309.5,74.3 310.1,74.2 310.7,73.9 311.3,73.7 311.9,73.1 312.5,73.0 313.1,72.5 313.7,72.4 314.3,71.9 314.9,71.6 315.5,71.0 316.1,70.7 316.7,70.5 317.3,69.9 317.9,69.7 318.5,69.3 319.1,68.8 319.7,68.5 320.3,68.6 320.9,68.2 321.5,68.2 322.1,67.7 322.7,67.8 323.3,67.6 323.9,67.7 324.5,67.7 325.1,67.4 325.7,67.2 326.3,67.1 326.9,67.0 327.5,66.7 328.1,66.7 328.7,66.5 329.3,66.2 329.9,66.3 330.5,66.3 331.1,66.0 331.7,66.0 332.3,65.9 332.9,65.9 333.5,66.0 334.1,65.7 334.7,65.7 335.3,65.5 335.9,65.7 336.5,65.4 337.1,65.5 337.7,65.6 338.3,65.4 338.9,65.2 339.5,65.5 340.1,65.3 340.7,65.2 341.3,65.4 341.9,65.1 342.5,65.3 343.1,65.2 343.7,65.3 344.3,65.4 344.9,65.1 345.5,65.3 346.1,65.3 346.7,65.3 347.3,65.2 347.9,65.3 348.5,65.0 349.1,65.0 349.7,65.0 350.3,65.0 350.9,64.8 351.5,64.9 352.1,64.9 352.7,64.5 353.3,64.6 353.9,64.5 354.5,64.2 355.1,64.1 355.7,64.0 356.3,64.0 356.9,63.8 357.5,63.6 358.1,63.5 358.7,63.5 359.3,63.3 359.9,63.0 360.5,63.3 361.1,63.3 361.7,63.5 362.3,63.6 362.9,63.7 363.5,63.9 364.1,63.9 364.7,64.3 365.3,64.4 365.9,64.7 366.5,64.6 367.1,64.9 367.7,65.1 368.3,65.2 368.9,65.6 369.5,65.6 370.1,65.9 370.7,65.9 371.3,66.2 371.9,66.2 372.5,66.6 373.1,66.7 373.7,67.0 374.3,67.1 374.9,67.2 375.5,67.4 376.1,67.3 376.7,67.4 377.3,67.4 377.9,67.3 378.5,67.3 379.1,67.3 379.7,67.2 380.3,67.2 380.9,67.2 381.5,67.0 382.1,66.9 382.7,66.7 383.3,66.7 383.9,66.5 384.5,66.4 385.1,65.9 385.7,65.8 386.3,65.6 386.9,65.2 387.5,65.2 388.1,65.2 388.7,65.1 389.3,65.0 389.9,65.1 390.5,65.2 391.1,65.7 391.7,65.8 392.3,66.2 392.9,66.6 393.5,67.1 394.1,68.0 394.7,69.3 395.3,71.0 395.9,72.7 396.5,74.5 397.1,77.3 397.7,80.3 398.3,83.7 398.9,87.2 399.5,90.5 400.1,93.5 400.7,96.3 401.3,98.4 401.9,100.7 402.5,103.2 403.1,107.4 403.7,112.0 404.3,112.4 404.9,112.4 405.5,111.9 406.1,111.2 406.7,110.7 407.3,110.0 407.9,109.3 408.5,108.4 409.1,107.4 409.7,106.7 410.3,105.8 410.9,104.9 411.5,104.2 412.1,103.4 412.7,102.8 413.3,101.9 413.9,101.3 414.5,100.3 415.1,99.3 415.7,98.5 416.3,96.8 416.9,95.4 417.5,94.0 418.1,92.3 418.7,91.1 419.3,89.8 419.9,88.8 420.5,87.8 421.1,86.7 421.7,85.8 422.3,84.8 422.9,83.8 423.5,82.7 424.1,81.6 424.7,80.6 425.3,79.2 425.9,78.0 426.5,76.9 427.1,75.4 427.7,74.2 428.3,73.0 428.9,71.7 429.5,70.3 430.1,69.3 430.7,68.1 431.3,67.3 431.9,66.3 432.5,65.7 433.1,64.7 433.7,63.9 434.3,63.3 434.9,62.6 435.5,62.2 436.1,61.7 436.7,61.2 437.3,60.6 437.9,60.4 438.5,60.0 439.1,59.6 439.7,59.3 440.3,58.6 440.9,58.5 441.5,58.0 442.1,57.8 442.7,57.4 443.3,57.1 443.9,56.6 444.5,56.3 445.1,55.6 445.7,55.2 446.3,54.8 446.9,54.1 447.5,53.5 448.1,53.2 448.7,52.8 449.3,52.4 449.9,51.9 450.5,51.7 451.1,51.8 451.7,52.8 452.3,53.7 452.9,54.9 453.5,56.7 454.1,58.8 454.7,61.3 455.3,63.3 455.9,65.3 456.5,67.5 457.1,70.2 457.7,72.2 458.3,74.9 458.9,77.3 459.5,79.4 460.1,82.1 460.7,84.3 461.3,86.9 461.9,89.2 462.5,91.8 463.1,94.0 463.7,96.9 464.3,100.4 464.9,103.5 465.5,105.9 466.1,106.8 466.7,104.5 467.3,101.0 467.9,97.0 468.5,93.9 469.1,91.9 469.7,90.6 470.3,88.9 470.9,87.9 471.5,87.1 472.1,86.3 472.7,85.8 473.3,85.4 473.9,85.0 474.5,84.2 475.1,83.8 475.7,83.0 476.3,82.7 476.9,82.0 477.5,81.8 478.1,81.2 478.7,81.0 479.3,80.8 479.9,80.6 480.5,80.4 481.1,80.7 481.7,80.6 482.3,81.0 482.9,81.5 483.5,81.8 484.1,82.3 484.7,82.6 485.3,82.8 485.9,83.2 486.5,83.5 487.1,84.0 487.7,84.2 488.3,85.1 488.9,85.7 489.5,86.6 490.1,87.5 490.7,88.1 491.3,88.8 491.9,89.3 492.5,89.6 493.1,90.5 493.7,91.1 494.3,91.5 494.9,92.2 495.5,92.7 496.1,93.3 496.7,94.1 497.3,95.0 497.9,95.7 498.5,96.1 499.1,97.0 499.7,97.7 500.3,97.7 500.9,98.8 501.5,99.7 502.1,100.1 502.7,99.8 503.3,101.3 503.9,100.7 504.5,101.6 505.1,101.6 505.7,103.8 506.3,103.1 506.9,105.4 507.5,104.4 508.1,105.6 508.7,105.4 509.3,109.0 509.9,107.9 510.5,109.8 511.1,109.6 511.7,113.8 512.3,114.1 512.9,114.3 513.5,116.5 514.1,117.6 514.7,119.0 515.3,119.0 515.9,121.7 516.5,120.2 517.1,121.6 517.7,122.7 518.3,121.5 518.9,124.7 519.5,126.3 520.1,125.4 520.7,125.2 521.3,127.6 521.9,125.0 522.5,128.7 523.1,129.1 523.7,129.3 524.3,127.9 524.9,131.2 525.5,131.9 526.1,129.2 526.7,132.9" fill="none" stroke="#1e1e1e" stroke-width="1.35" stroke-linejoin="round"/>
<rect x="64.1" y="12.0" width="474.0" height="343.0" fill="none" stroke="#000" stroke-width="1.3"/>
<path d="M64.1,14.5H68.3 M64.1,77.2H68.3 M64.1,139.8H68.3 M64.1,202.6H68.3 M64.1,265.2H68.3 M64.1,328.0H68.3 M106.0,355.0V350.8 M211.4,355.0V350.8 M316.9,355.0V350.8 M422.3,355.0V350.8 M527.8,355.0V350.8" stroke="#000" stroke-width="1.1" fill="none"/>
<line x1="379.5" y1="222.9" x2="413.3" y2="222.9" stroke="#ff0000" stroke-width="1.2"/>
<line x1="379.5" y1="244.9" x2="413.3" y2="244.9" stroke="#008000" stroke-width="1.2"/>
<line x1="379.5" y1="266.8" x2="413.3" y2="266.8" stroke="#0000ff" stroke-width="1.2"/>
<line x1="379.5" y1="288.8" x2="413.3" y2="288.8" stroke="#00bfbf" stroke-width="1.2"/>
<line x1="379.5" y1="310.7" x2="413.3" y2="310.7" stroke="#bf00bf" stroke-width="1.2"/>
<line x1="379.5" y1="332.7" x2="413.3" y2="332.7" stroke="#1e1e1e" stroke-width="1.2"/>
<g font-family="'Noto Serif CJK SC','Liberation Serif',serif" fill="#111" style="font-feature-settings:'hwid' 1, 'liga' 0;font-variant-ligatures:none">
<text transform="translate(59.70,21.10) scale(1,0.89)" font-size="18.9" text-anchor="end">0.7</text>
<text transform="translate(59.70,83.80) scale(1,0.89)" font-size="18.9" text-anchor="end">0.6</text>
<text transform="translate(59.70,146.40) scale(1,0.89)" font-size="18.9" text-anchor="end">0.5</text>
<text transform="translate(59.70,209.20) scale(1,0.89)" font-size="18.9" text-anchor="end">0.4</text>
<text transform="translate(59.70,271.80) scale(1,0.89)" font-size="18.9" text-anchor="end">0.3</text>
<text transform="translate(59.70,334.60) scale(1,0.89)" font-size="18.9" text-anchor="end">0.2</text>
<text transform="translate(106.00,372.60) scale(1,0.89)" font-size="18.9" text-anchor="middle">500</text>
<text transform="translate(211.40,372.60) scale(1,0.89)" font-size="18.9" text-anchor="middle">1000</text>
<text transform="translate(316.90,372.60) scale(1,0.89)" font-size="18.9" text-anchor="middle">1500</text>
<text transform="translate(422.30,372.60) scale(1,0.89)" font-size="18.9" text-anchor="middle">2000</text>
<text transform="translate(527.80,372.60) scale(1,0.89)" font-size="18.9" text-anchor="middle">2500</text>
<text transform="translate(300.40,395.30) scale(1,0.93)" font-size="18.8" text-anchor="middle">Wavelength(nm)</text>
<g transform="translate(24.0,184.3) rotate(-90)"><text transform="translate(0.00,0.00) scale(1,0.93)" font-size="19.0" text-anchor="middle">Reflectance</text></g>
<text transform="translate(368.90,202.20) scale(1,0.89)" font-size="16.3" text-anchor="start">SOM content(g/kg)</text>
<text transform="translate(425.30,227.70) scale(1,0.89)" font-size="16.3" text-anchor="start">41.1</text>
<text transform="translate(425.30,249.66) scale(1,0.89)" font-size="16.3" text-anchor="start">39.3</text>
<text transform="translate(425.30,271.62) scale(1,0.89)" font-size="16.3" text-anchor="start">32.8</text>
<text transform="translate(425.30,293.58) scale(1,0.89)" font-size="16.3" text-anchor="start">33.9</text>
<text transform="translate(425.30,315.54) scale(1,0.89)" font-size="16.3" text-anchor="start">15.4</text>
<text transform="translate(425.30,337.50) scale(1,0.89)" font-size="16.3" text-anchor="start">10.0</text>
</g></svg></body></html>
